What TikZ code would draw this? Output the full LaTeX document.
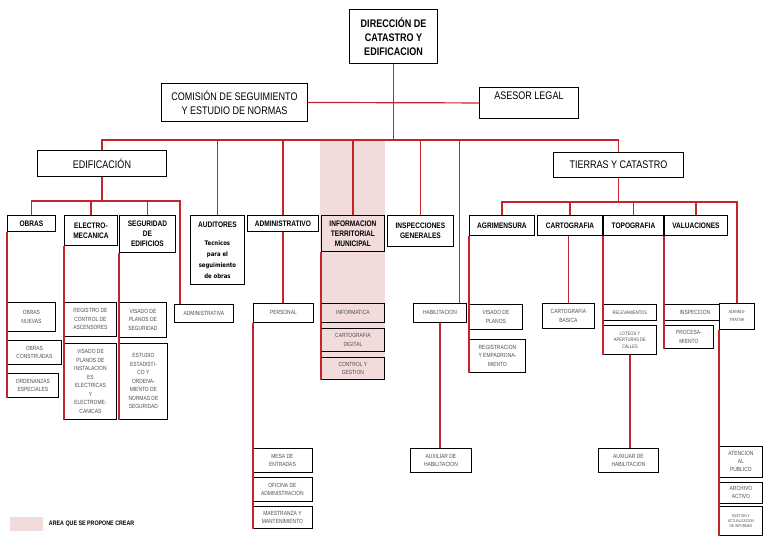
\documentclass[tikz,border=0pt]{standalone}
\usepackage{fontspec}
\setmainfont{Liberation Sans}[FakeStretch=0.82]
\newfontfamily\tecfont{DejaVu Sans}[FakeStretch=0.85]
\newcommand{\tec}{\tecfont\bfseries\fontsize{6.3}{11}\selectfont}
\usetikzlibrary{positioning,shadows}
\definecolor{linered}{HTML}{C8232B}
\definecolor{newarea}{HTML}{F1DBDB}
\definecolor{subtext}{HTML}{4D4D4D}
\tikzset{
  box/.style={rectangle, draw=black, fill=white, line width=0.9pt, align=center, inner sep=1pt, anchor=north west,
              drop shadow={shadow xshift=0.9pt, shadow yshift=-0.9pt, fill=black, opacity=0.3}},
  sz/.style 2 args={minimum width=#1, minimum height=#2},
  headbox/.style={box, line width=1.1pt, font=\fontsize{11}{14}\selectfont\bfseries},
  areabox/.style={box, font=\fontsize{11}{14}\selectfont},
  unitbox/.style={box, font=\fontsize{8}{10}\selectfont\bfseries},
  subbox/.style={box, line width=0.8pt, text=subtext, font=\fontsize{6}{8.5}\selectfont},
  tinybox/.style={subbox, font=\fontsize{5}{6.5}\selectfont},
  newbox/.style={fill=newarea},
  link/.style={draw=linered, line width=1.2pt}
}
\begin{document}
\begin{tikzpicture}[x=1pt, y=-1pt]
 \useasboundingbox (0,0) rectangle (768,543);
 \fill[newarea] (320,140) rectangle (385,380);
 % top
 \node[headbox, sz={88}{54}] (dir) at (349,9) {DIRECCIÓN DE\\CATASTRO Y\\EDIFICACION};
 \node[areabox, sz={146}{38}] (com) at (161,83) {COMISIÓN DE SEGUIMIENTO\\Y ESTUDIO DE NORMAS};
 \node[areabox, sz={99}{31}, text height=11pt, text depth=17pt] (ase) at (479,87) {ASESOR LEGAL};
 \node[areabox, sz={129}{26}] (edif) at (37,150) {EDIFICACIÓN};
 \node[areabox, sz={130}{25}] (tier) at (553,152) {TIERRAS Y CATASTRO};
 % units
 \node[unitbox, sz={48}{16}] (obras) at (7,215) {OBRAS};
 \node[unitbox, sz={53}{30}] (elec) at (64,215) {ELECTRO-\\MECANICA};
 \node[unitbox, sz={56}{37}] (segu) at (119,215) {SEGURIDAD\\DE\\EDIFICIOS};
 \node[unitbox, sz={54}{69}, font=\fontsize{8}{11}\selectfont\bfseries] (audi) at (190,215)
   {AUDITORES\\[7pt]{\tec Tecnicos}\\{\tec para el}\\{\tec seguimiento}\\{\tec de obras}};
 \node[unitbox, sz={71}{16}] (admo) at (247,215) {ADMINISTRATIVO};
 \node[unitbox, newbox, sz={63}{36}] (info) at (321,215) {INFORMACION\\TERRITORIAL\\MUNICIPAL};
 \node[unitbox, sz={66}{31}] (insp) at (387,215) {INSPECCIONES\\GENERALES};
 \node[unitbox, sz={65}{20}] (agri) at (469,215) {AGRIMENSURA};
 \node[unitbox, sz={65}{20}] (cart) at (537,215) {CARTOGRAFIA};
 \node[unitbox, sz={60}{20}] (topo) at (603,215) {TOPOGRAFIA};
 \node[unitbox, sz={63}{20}] (valu) at (664,215) {VALUACIONES};
 % sections
 \node[subbox, sz={48}{29}] (obnu) at (7,302) {OBRAS\\NUEVAS};
 \node[subbox, sz={54}{24}] (obco) at (7,340) {OBRAS\\CONSTRUIDAS};
 \node[subbox, sz={51}{24}] (oror) at (7,373) {ORDENANZAS\\ESPECIALES};
 \node[subbox, sz={52}{34}] (regc) at (64,302) {REGISTRO DE\\CONTROL DE\\ASCENSORES};
 \node[subbox, sz={52}{76}] (visi) at (64,343) {VISADO DE\\PLANOS DE\\INSTALACION\\ES\\ELECTRICAS\\Y\\ELECTROME-\\CANICAS};
 \node[subbox, sz={47}{35}] (vise) at (119,302) {VISADO DE\\PLANOS DE\\SEGURIDAD};
 \node[subbox, sz={48}{76}] (estu) at (119,343) {ESTUDIO\\ESTADISTI-\\CO Y\\ORDENA-\\MIENTO DE\\NORMAS DE\\SEGURIDAD};
 \node[subbox, sz={59}{18}] (adma) at (174,304) {ADMINISTRATIVA};
 \node[subbox, sz={60}{19}] (pers) at (253,303) {PERSONAL};
 \node[subbox, sz={60}{24}] (mesa) at (252,448) {MESA DE\\ENTRADAS};
 \node[subbox, sz={60}{24}] (ofic) at (252,477) {OFICINA DE\\ADMINISTRACION};
 \node[subbox, sz={60}{22}] (maes) at (252,506) {MAESTRANZA Y\\MANTENIMIENTO};
 \node[subbox, newbox, sz={63}{19}] (infm) at (321,303) {INFORMATICA};
 \node[subbox, newbox, sz={63}{23}] (cadi) at (321,328) {CARTOGRAFIA\\DIGITAL};
 \node[subbox, newbox, sz={63}{22}] (cong) at (321,357) {CONTROL Y\\GESTION};
 \node[subbox, sz={53}{19}] (habi) at (413,303) {HABILITACION};
 \node[subbox, sz={61}{24}] (aux1) at (410,448) {AUXILIAR DE\\HABILITACION};
 \node[subbox, sz={53}{25}] (vpla) at (469,304) {VISADO DE\\PLANOS};
 \node[subbox, sz={56}{33}] (regi) at (469,339) {REGISTRACION\\Y EMPADRONA-\\MIENTO};
 \node[subbox, sz={52}{25}] (caba) at (542,303) {CARTOGRAFIA\\BASICA};
 \node[tinybox, sz={53}{16}] (rele) at (603,304) {RELEVAMIENTOS};
 \node[tinybox, sz={53}{29}] (lote) at (603,325) {LOTEOS Y\\APERTURAS DE\\CALLES};
 \node[subbox, sz={60}{24}] (aux2) at (598,448) {AUXILIAR DE\\HABILITACION};
 \node[subbox, sz={61}{16}] (insn) at (664,304) {INSPECCION};
 \node[subbox, sz={49}{23}] (proc) at (664,325) {PROCESA-\\MIENTO};
 \node[tinybox, sz={35}{26}, font=\fontsize{4.5}{8}\selectfont] (admt) at (719,303) {ADMINIS-\\TRATIVA};
 \node[subbox, sz={43}{31}, font=\fontsize{6}{8}\selectfont] (aten) at (719,446) {ATENCION\\AL\\PÚBLICO};
 \node[subbox, sz={43}{21}, font=\fontsize{6}{8}\selectfont] (arch) at (719,482) {ARCHIVO\\ACTIVO};
 \node[tinybox, sz={43}{29}, font=\fontsize{4}{5}\selectfont] (gest) at (719,506) {GESTION Y\\ACTUALIZACION\\DE INFORMES};
 % key
 \node[fill=newarea, anchor=north west, sz={33}{14}, inner sep=0pt] (key) at (10,517) {};
 \node[right=2pt of key, font=\fontsize{6.5}{8}\selectfont\bfseries] (keytext) {AREA QUE SE PROPONE CREAR};
 % links
 \coordinate (bus) at (0,140); \coordinate (edifbus) at (0,201); \coordinate (tierbus) at (0,202);
 \coordinate (admain) at ([xshift=6pt]adma.north west); \coordinate (habin) at ([xshift=-7pt]habi.north east);
 \draw[link] (dir.south) -- (dir.south |- bus); \draw[link] (com.east) -- (ase.west);
 \draw[link] (edif.north) |- (tier.north |- bus) -- (tier.north);
 \foreach \u in {audi,admo,info,insp} \draw[link] (\u.north) -- (\u.north |- bus);
 \draw[link] (habin) -- (habin |- bus);
 \draw[link] (edif.south) -- (edif.south |- edifbus); \draw[link] (obras.north) |- (admain |- edifbus) -- (admain);
 \foreach \u in {elec,segu} \draw[link] (\u.north) -- (\u.north |- edifbus);
 \draw[link] (tier.south) -- (tier.south |- tierbus); \draw[link] (agri.north) |- (admt.north |- tierbus) -- (admt.north);
 \foreach \u in {cart,topo,valu} \draw[link] (\u.north) -- (\u.north |- tierbus);
 \draw[link] (obras.south west) -- (oror.south west); \draw[link] (elec.south west) -- (visi.south west);
 \draw[link] (segu.south west) -- (estu.south west); \draw[link] (info.south west) -- (cong.south west);
 \draw[link] (admo.south) -- (admo.south |- pers.north); \draw[link] (pers.south west) -- (pers.south west |- maes.south);
 \draw[link] (habi.south) -- (habi.south |- aux1.north);
 \draw[link] (agri.south west) -- (regi.south west); \draw[link] (caba.north |- cart.south) -- (caba.north);
 \draw[link] (topo.south west) -- (lote.south west); \draw[link] (lote.south) -- (lote.south |- aux2.north);
 \draw[link] (valu.south west) -- (proc.south west); \draw[link] (admt.south west) -- (admt.south west |- gest.south);
\end{tikzpicture}
\end{document}
